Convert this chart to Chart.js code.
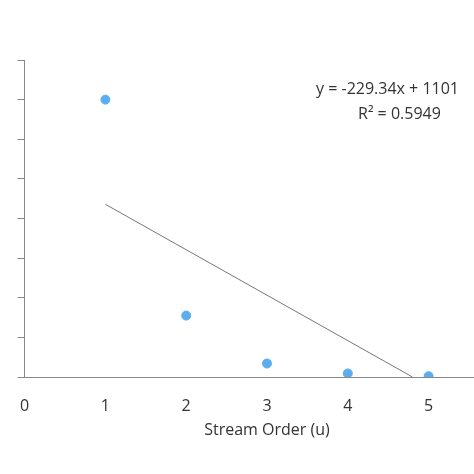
<!DOCTYPE html>
<html>
<head>
<meta charset="utf-8">
<script src="https://cdn.jsdelivr.net/npm/chart.js@4"></script>
<style>
  html, body { margin: 0; padding: 0; background: #fff; overflow: hidden; }
  #wrap { width: 534px; height: 474px; }
</style>
</head>
<body>
<div id="wrap"><canvas id="chart" width="534" height="474"></canvas></div>
<script>
const streamOrder = [1, 2, 3, 4, 5];
const values = [1400, 310, 68, 18, 4];
// trendline y = -229.34x + 1101, drawn from x=1 to where it reaches 0
const trendX = [1, 4.8];
const trendY = [871.7, 0];
const equationLines = ['y = -229.34x + 1101', 'R\u00b2 = 0.5949'];

const eqLabel = {
  id: 'eqLabel',
  afterDraw(chart) {
    const c = chart.ctx;
    c.save();
    c.fillStyle = '#333';
    c.font = '16px "Open Sans", sans-serif';
    c.textBaseline = 'middle';
    c.fillText(equationLines[0], 316, 89);
    c.fillText(equationLines[1], 358, 114);
    c.restore();
  }
};

new Chart(document.getElementById('chart'), {
  type: 'scatter',
  data: {
    datasets: [
      {
        data: streamOrder.map((x, i) => ({ x, y: values[i] })),
        backgroundColor: '#5aaef0',
        borderColor: '#5aaef0',
        pointRadius: 4.5
      },
      {
        type: 'line',
        data: trendX.map((x, i) => ({ x, y: trendY[i] })),
        borderColor: '#777',
        borderWidth: 1,
        pointRadius: 0,
        fill: false
      }
    ]
  },
  options: {
    responsive: false,
    animation: false,
    layout: { padding: { top: 60, left: 0, right: 0, bottom: 30 } },
    plugins: { legend: { display: false }, tooltip: { enabled: false } },
    scales: {
      x: {
        min: 0, max: 6,
        ticks: { stepSize: 1, color: '#333', font: { size: 16, family: 'Open Sans' }, padding: 20 },
        grid: { drawOnChartArea: false, drawTicks: false },
        border: { color: '#888' },
        title: { display: true, text: 'Stream Order (u)', color: '#333', font: { size: 16, family: 'Open Sans' } },
        afterFit: s => { s.height = 67; }
      },
      y: {
        min: 0, max: 1600,
        ticks: { stepSize: 200, display: false },
        grid: { drawOnChartArea: false, tickLength: 7, color: '#888' },
        border: { color: '#888' },
        afterFit: s => { s.width = 14; }
      }
    }
  },
  plugins: [eqLabel]
});
</script>
</body>
</html>
